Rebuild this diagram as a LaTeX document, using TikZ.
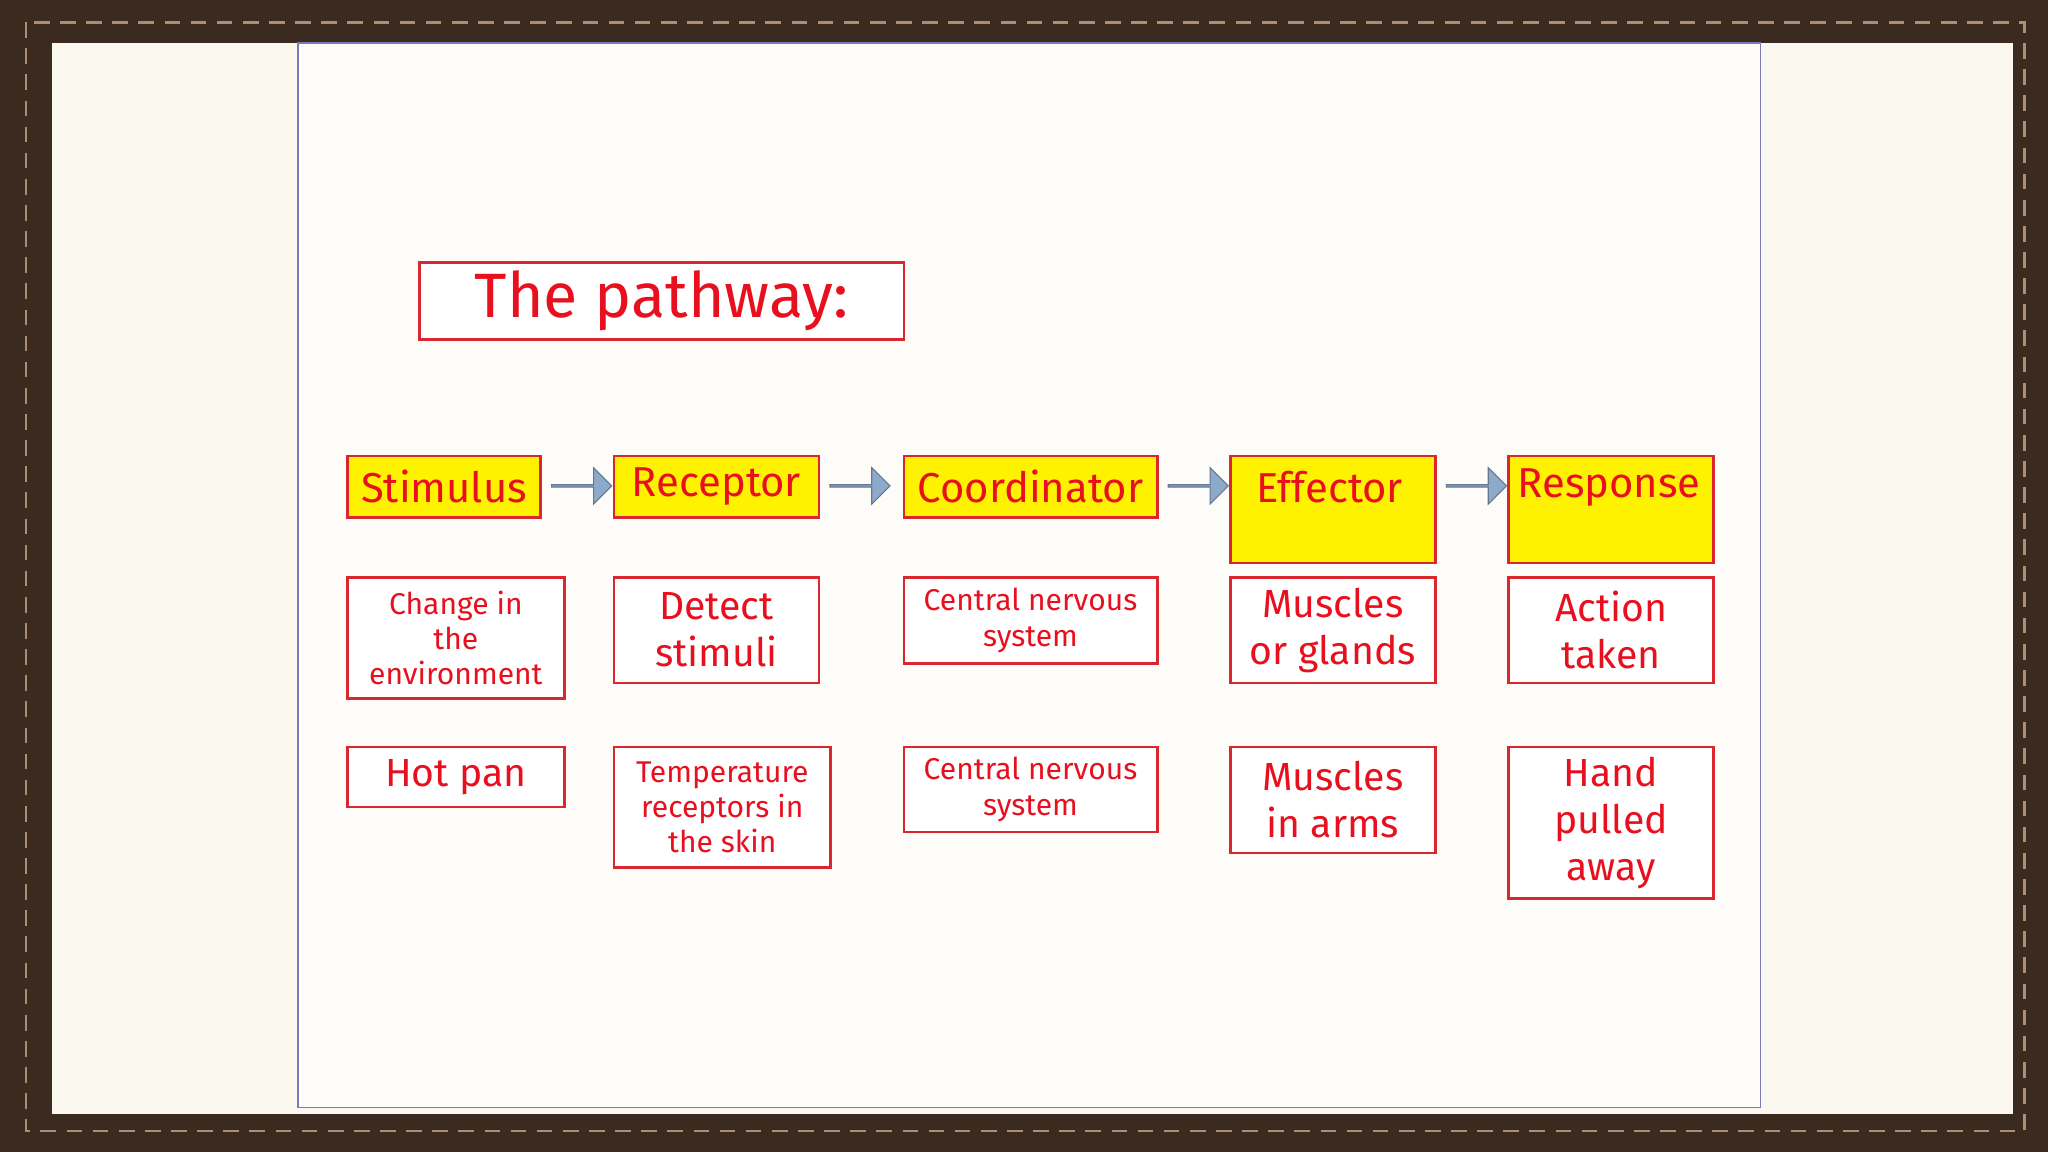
\documentclass[tikz,border=0pt]{standalone}
\usepackage{fontspec}
\setmainfont{Fira Sans}
\usetikzlibrary{shapes.arrows}
\definecolor{frame}{HTML}{3A2A1F}
\definecolor{cream}{HTML}{FAF8EF}
\definecolor{txtred}{HTML}{E8101E}
\definecolor{boxred}{HTML}{D9262F}
\definecolor{arr}{HTML}{8EAACB}
\tikzset{
  box/.style={draw=boxred, line width=1pt, fill=#1, text=txtred, align=center, inner sep=0pt, anchor=north west},
  box/.default=white,
  big/.style={font=\fontsize{16}{18}\selectfont},
  mid/.style={font=\fontsize{15}{18}\selectfont},
  sml/.style={font=\fontsize{11.5}{13.5}\selectfont},
  fat/.style={single arrow, draw=arr!70!black, line width=0.4pt, fill=arr, minimum height=23pt, minimum width=14pt, single arrow head extend=3pt, inner sep=0pt, shape border uses incircle=false}
}
\newcommand{\bx}[8]{% name style fill x1 y1 x2 y2 text
  \node[box=#3,#2,minimum width={(#6-#4)*0.5pt},minimum height={(#7-#5)*0.5pt}] (#1) at (#4,#5) {};
  \node[text=txtred,align=center,#2] at (#1.center) {#8};}
\begin{document}
\begin{tikzpicture}[x=0.5pt,y=-0.5pt]
\fill[frame] (0,0) rectangle (1568,882);
\draw[color=brown!60!frame!70!white, dashed, line width=1pt, dash pattern=on 6pt off 4pt] (20,17) rectangle (1550,866);
\fill[cream] (40,33) rectangle (1541,853);
\draw[fill=white!60!cream, draw=gray!70!blue!80!white, line width=0.6pt] (228,33) rectangle (1348,848);
% title
\node[box, minimum width=185.5pt, minimum height=29.5pt] (title) at (320,200) {};
\node[text=txtred, font=\fontsize{24}{28}\selectfont] (tt) at (title.center) {The pathway:};
% row 1
\node[box=yellow,big,minimum width=74pt,minimum height=23.5pt] (s) at (265,348) {Stimulus};
\node[box=yellow,big,minimum width=78.5pt,minimum height=23.5pt] (r) at (469,348) {Receptor};
\node[box=yellow,big,minimum width=97pt,minimum height=23.5pt] (c) at (691,348) {Coordinator};
\node[box=yellow,minimum width=78.5pt,minimum height=41pt] (e) at (941,348) {};
\node[text=txtred,big] (et) at (1018,373) {Effector};
\node[box=yellow,minimum width=78.5pt,minimum height=41pt] (p) at (1154,348) {};
\node[text=txtred,big] (pt) at (1232,373) {Response};
\node[fat] (a1) at (445,372) {};
\node[fat] (a2) at (658,372) {};
\node[fat] (a3) at (917,372) {};
\node[fat] (a4) at (1130,372) {};
% row 2
\node[box,sml,minimum width=83pt,minimum height=46.5pt] (s2) at (265,441) {Change in\\the\\environment};
\node[box,mid,minimum width=78.5pt,minimum height=40.5pt] (r2) at (469,441) {Detect\\stimuli};
\node[box,sml,minimum width=97pt,minimum height=33pt] (c2) at (691,441) {Central nervous\\system};
\node[box,mid,minimum width=78.5pt,minimum height=40.5pt] (e2) at (941,441) {Muscles\\or glands};
\node[box,mid,minimum width=78.5pt,minimum height=40.5pt] (p2) at (1154,441) {Action\\taken};
% row 3
\node[box,mid,minimum width=83pt,minimum height=23pt] (s3) at (265,571) {Hot pan};
\node[box,sml,minimum width=83pt,minimum height=46pt] (r3) at (469,571) {Temperature\\receptors in\\the skin};
\node[box,sml,minimum width=97pt,minimum height=32.5pt] (c3) at (691,571) {Central nervous\\system};
\node[box,mid,minimum width=78.5pt,minimum height=40.5pt] (e3) at (941,571) {Muscles\\in arms};
\node[box,mid,minimum width=78.5pt,minimum height=58pt] (p3) at (1154,571) {Hand\\pulled\\away};
\end{tikzpicture}
\end{document}
